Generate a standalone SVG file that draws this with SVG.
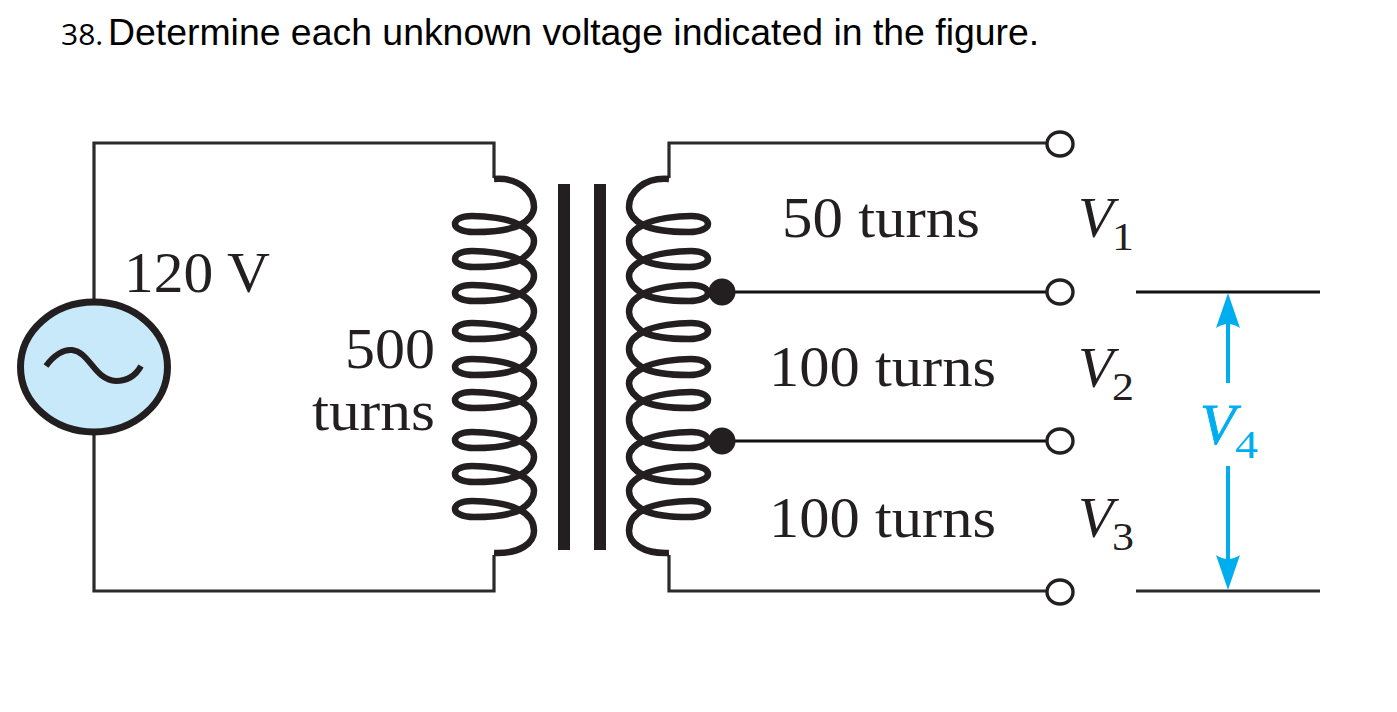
<svg xmlns="http://www.w3.org/2000/svg" xmlns:xlink="http://www.w3.org/1999/xlink" width="1397" height="712" viewBox="0 0 1397 712">
<style>
.w{fill:none;stroke:#2a2a2a;stroke-width:3.2}
.k{fill:none;stroke:#111;stroke-width:3}
.c{fill:none;stroke:#231f20;stroke-width:6.5}
.t{fill:#fff;stroke:#231f20;stroke-width:3.4}
.b{fill:#231f20}
.l{font-family:"Liberation Serif",serif;font-size:57px;fill:#231f20}
.v{font-family:"Liberation Serif",serif;font-size:58px;font-style:italic;fill:#231f20}
.s{font-family:"Liberation Serif",serif;font-size:41px;fill:#231f20}
.a{fill:none;stroke:#00aeef;stroke-width:4}
.h{fill:#00aeef}
</style>
<rect width="1397" height="712" fill="#fff"/>
<g id="title">
<text x="61" y="45" font-family="Open Sans,sans-serif" font-size="30" fill="#000">38.</text>
<text x="108" y="45" font-family="Liberation Sans,sans-serif" font-size="37.4" fill="#000">Determine each unknown voltage indicated in the figure.</text>
</g>
<g id="connectors">
<path class="w" d="M94,300V143H494V178M94,432V591H494V555"/>
<path class="w" d="M669,178V143H1047M669,555V591H1047"/>
<path class="k" d="M722,292H1047M722,441H1047"/>
<path class="k" d="M1136,292H1320"/>
<path class="w" d="M1136,591H1320"/>
<path class="a" d="M1228,383V320M1228,466V560"/>
<path class="h" d="M1228,293L1240,328Q1228,320 1216,328Z"/>
<path class="h" d="M1228,590L1240,555Q1228,563 1216,555Z"/>
</g>
<g id="source">
<ellipse cx="94" cy="367" rx="73.5" ry="65" fill="#c8e9fa" stroke="#231f20" stroke-width="7"/>
<path d="M46,366C54,355 64,349 72,350C90,352 94,380 116,381C128,381 136,375 141,366" fill="none" stroke="#231f20" stroke-width="6"/>
<text class="l" x="124" y="292" textLength="146" lengthAdjust="spacingAndGlyphs">120 V</text>
</g>
<g id="primary">
<path id="coil" class="c" d="M494,179C520,177 534,193 534,207C534,214 528,221 520,225
C508,218 484,216 472,216C460,216 455,220 455,224C455,228 462,232 474,232C490,232 508,231 520,225C530,230 534,236 534,241C534,248 528,255 520,260
C508,253 484,251 472,251C460,251 455,255 455,259C455,263 462,267 474,267C490,267 508,266 520,260C530,265 534,271 534,276C534,283 528,289 520,294
C508,287 484,285 472,285C460,285 455,289 455,293C455,297 462,301 474,301C490,301 508,300 520,294C530,299 534,306 534,312C534,319 528,326 520,332
C508,325 484,323 472,323C460,323 455,327 455,331C455,335 462,339 474,339C490,339 508,338 520,332C530,337 534,343 534,349C534,356 528,363 520,368
C508,361 484,359 472,359C460,359 455,363 455,367C455,371 462,375 474,375C490,375 508,374 520,368C530,373 534,378 534,383C534,390 528,397 520,401
C508,394 484,392 472,392C460,392 455,396 455,400C455,404 462,408 474,408C490,408 508,407 520,401C530,406 534,413 534,420C534,428 528,436 520,441
C508,434 484,432 472,432C460,432 455,436 455,440C455,444 462,448 474,448C490,448 508,447 520,441C530,446 534,451 534,457C534,464 528,471 520,475
C508,468 484,466 472,466C460,466 455,470 455,474C455,478 462,482 474,482C490,482 508,481 520,475C530,480 534,485 534,491C534,498 528,505 520,510
C508,503 484,501 472,501C460,501 455,505 455,509C455,513 462,517 474,517C490,517 508,516 520,510C530,515 534,523 534,531C534,543 520,554 494,553"/>
<text class="l" x="345" y="368" textLength="90" lengthAdjust="spacingAndGlyphs">500</text>
<text class="l" x="312" y="430" textLength="123" lengthAdjust="spacingAndGlyphs">turns</text>
</g>
<g id="core">
<rect class="b" x="558" y="184" width="12" height="366"/>
<rect class="b" x="594" y="184" width="12" height="366"/>
</g>
<g id="secondary">
<use xlink:href="#coil" href="#coil" transform="matrix(-1 0 0 1 1163 0)"/>
<circle class="b" cx="722" cy="292" r="13.5"/>
<circle class="b" cx="722" cy="441" r="13.5"/>
<text class="l" x="782" y="237" textLength="198" lengthAdjust="spacingAndGlyphs">50 turns</text>
<text class="l" x="769" y="386" textLength="227" lengthAdjust="spacingAndGlyphs">100 turns</text>
<text class="l" x="769" y="537" textLength="227" lengthAdjust="spacingAndGlyphs">100 turns</text>
</g>
<g id="terminals">
<ellipse class="t" cx="1060" cy="144" rx="13" ry="12"/>
<ellipse class="t" cx="1060" cy="292" rx="13" ry="12"/>
<ellipse class="t" cx="1060" cy="441" rx="13" ry="12"/>
<ellipse class="t" cx="1060" cy="592" rx="13" ry="12"/>
<text class="v" x="1078" y="237">V</text><text class="s" x="1112" y="250" textLength="22" lengthAdjust="spacingAndGlyphs">1</text>
<text class="v" x="1078" y="387">V</text><text class="s" x="1112" y="400" textLength="22" lengthAdjust="spacingAndGlyphs">2</text>
<text class="v" x="1078" y="537">V</text><text class="s" x="1112" y="550" textLength="22" lengthAdjust="spacingAndGlyphs">3</text>
</g>
<g id="v4">
<text x="1200" y="444" font-family="Liberation Serif,serif" font-size="58" font-style="italic" stroke="#00aeef" stroke-width="0.8" fill="#00aeef">V</text>
<text x="1235" y="458" font-family="Liberation Serif,serif" font-size="41" textLength="23" lengthAdjust="spacingAndGlyphs" fill="#00aeef">4</text>
</g>
</svg>
